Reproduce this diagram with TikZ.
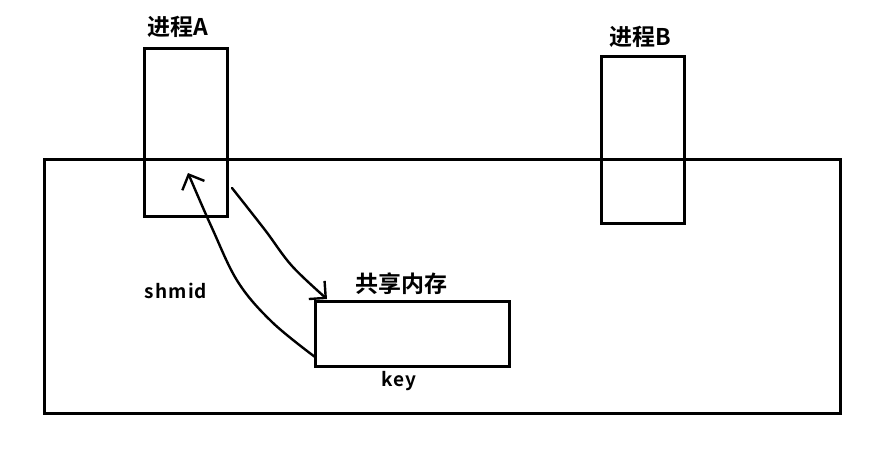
\documentclass[tikz,border=0pt]{standalone}
\usepackage{fontspec}
\setmainfont{Noto Sans CJK SC Bold}
\usetikzlibrary{arrows.meta}
\begin{document}
\begin{tikzpicture}[x=1pt,y=-1pt,
  box/.style={draw=black,line width=3pt,inner sep=0pt,outer sep=0pt,anchor=north west},
  lbl/.style={inner sep=0pt,font=\fontsize{23}{26}\selectfont},
  lat/.style={inner sep=0pt,font=\fontsize{19}{22}\selectfont\addfontfeature{LetterSpace=6}},
  hand/.style={line width=2.4pt,line cap=round,line join=round,-{Straight Barb[length=12pt,width=24pt,line width=2.4pt]}}]
\useasboundingbox (0,0) rectangle (882,449);
\node[box,minimum width=796pt,minimum height=253pt] (mem) at (44,160) {};
\node[box,minimum width=83pt,minimum height=167pt] (A) at (144,49) {};
\node[box,minimum width=83pt,minimum height=166pt] (B) at (601,57) {};
\node[box,minimum width=194pt,minimum height=65pt] (shm) at (315,301) {};
\node[lbl] (la) at (178,27) {进程A};
\node[lbl] (lb) at (640,37) {进程B};
\node[lbl] (ls) at (401,284) {共享内存};
\node[lat] (shmid) at (176,291) {shmid};
\node[lat] (key) at (399,381) {key};
\coordinate (s1) at (232,188);
\coordinate (m1) at (265,230);
\coordinate (m2) at (292,266);
\coordinate (t1) at (327,299);
\draw[hand] plot[smooth,tension=0.6] coordinates {(s1) (m1) (m2) (t1)};
\coordinate (s2) at (315,357);
\coordinate (n1) at (272,322);
\coordinate (n2) at (238,282);
\coordinate (n3) at (212,228);
\coordinate (t2) at (188,173);
\draw[hand] plot[smooth,tension=0.6] coordinates {(s2) (n1) (n2) (n3) (t2)};
\end{tikzpicture}
\end{document}
